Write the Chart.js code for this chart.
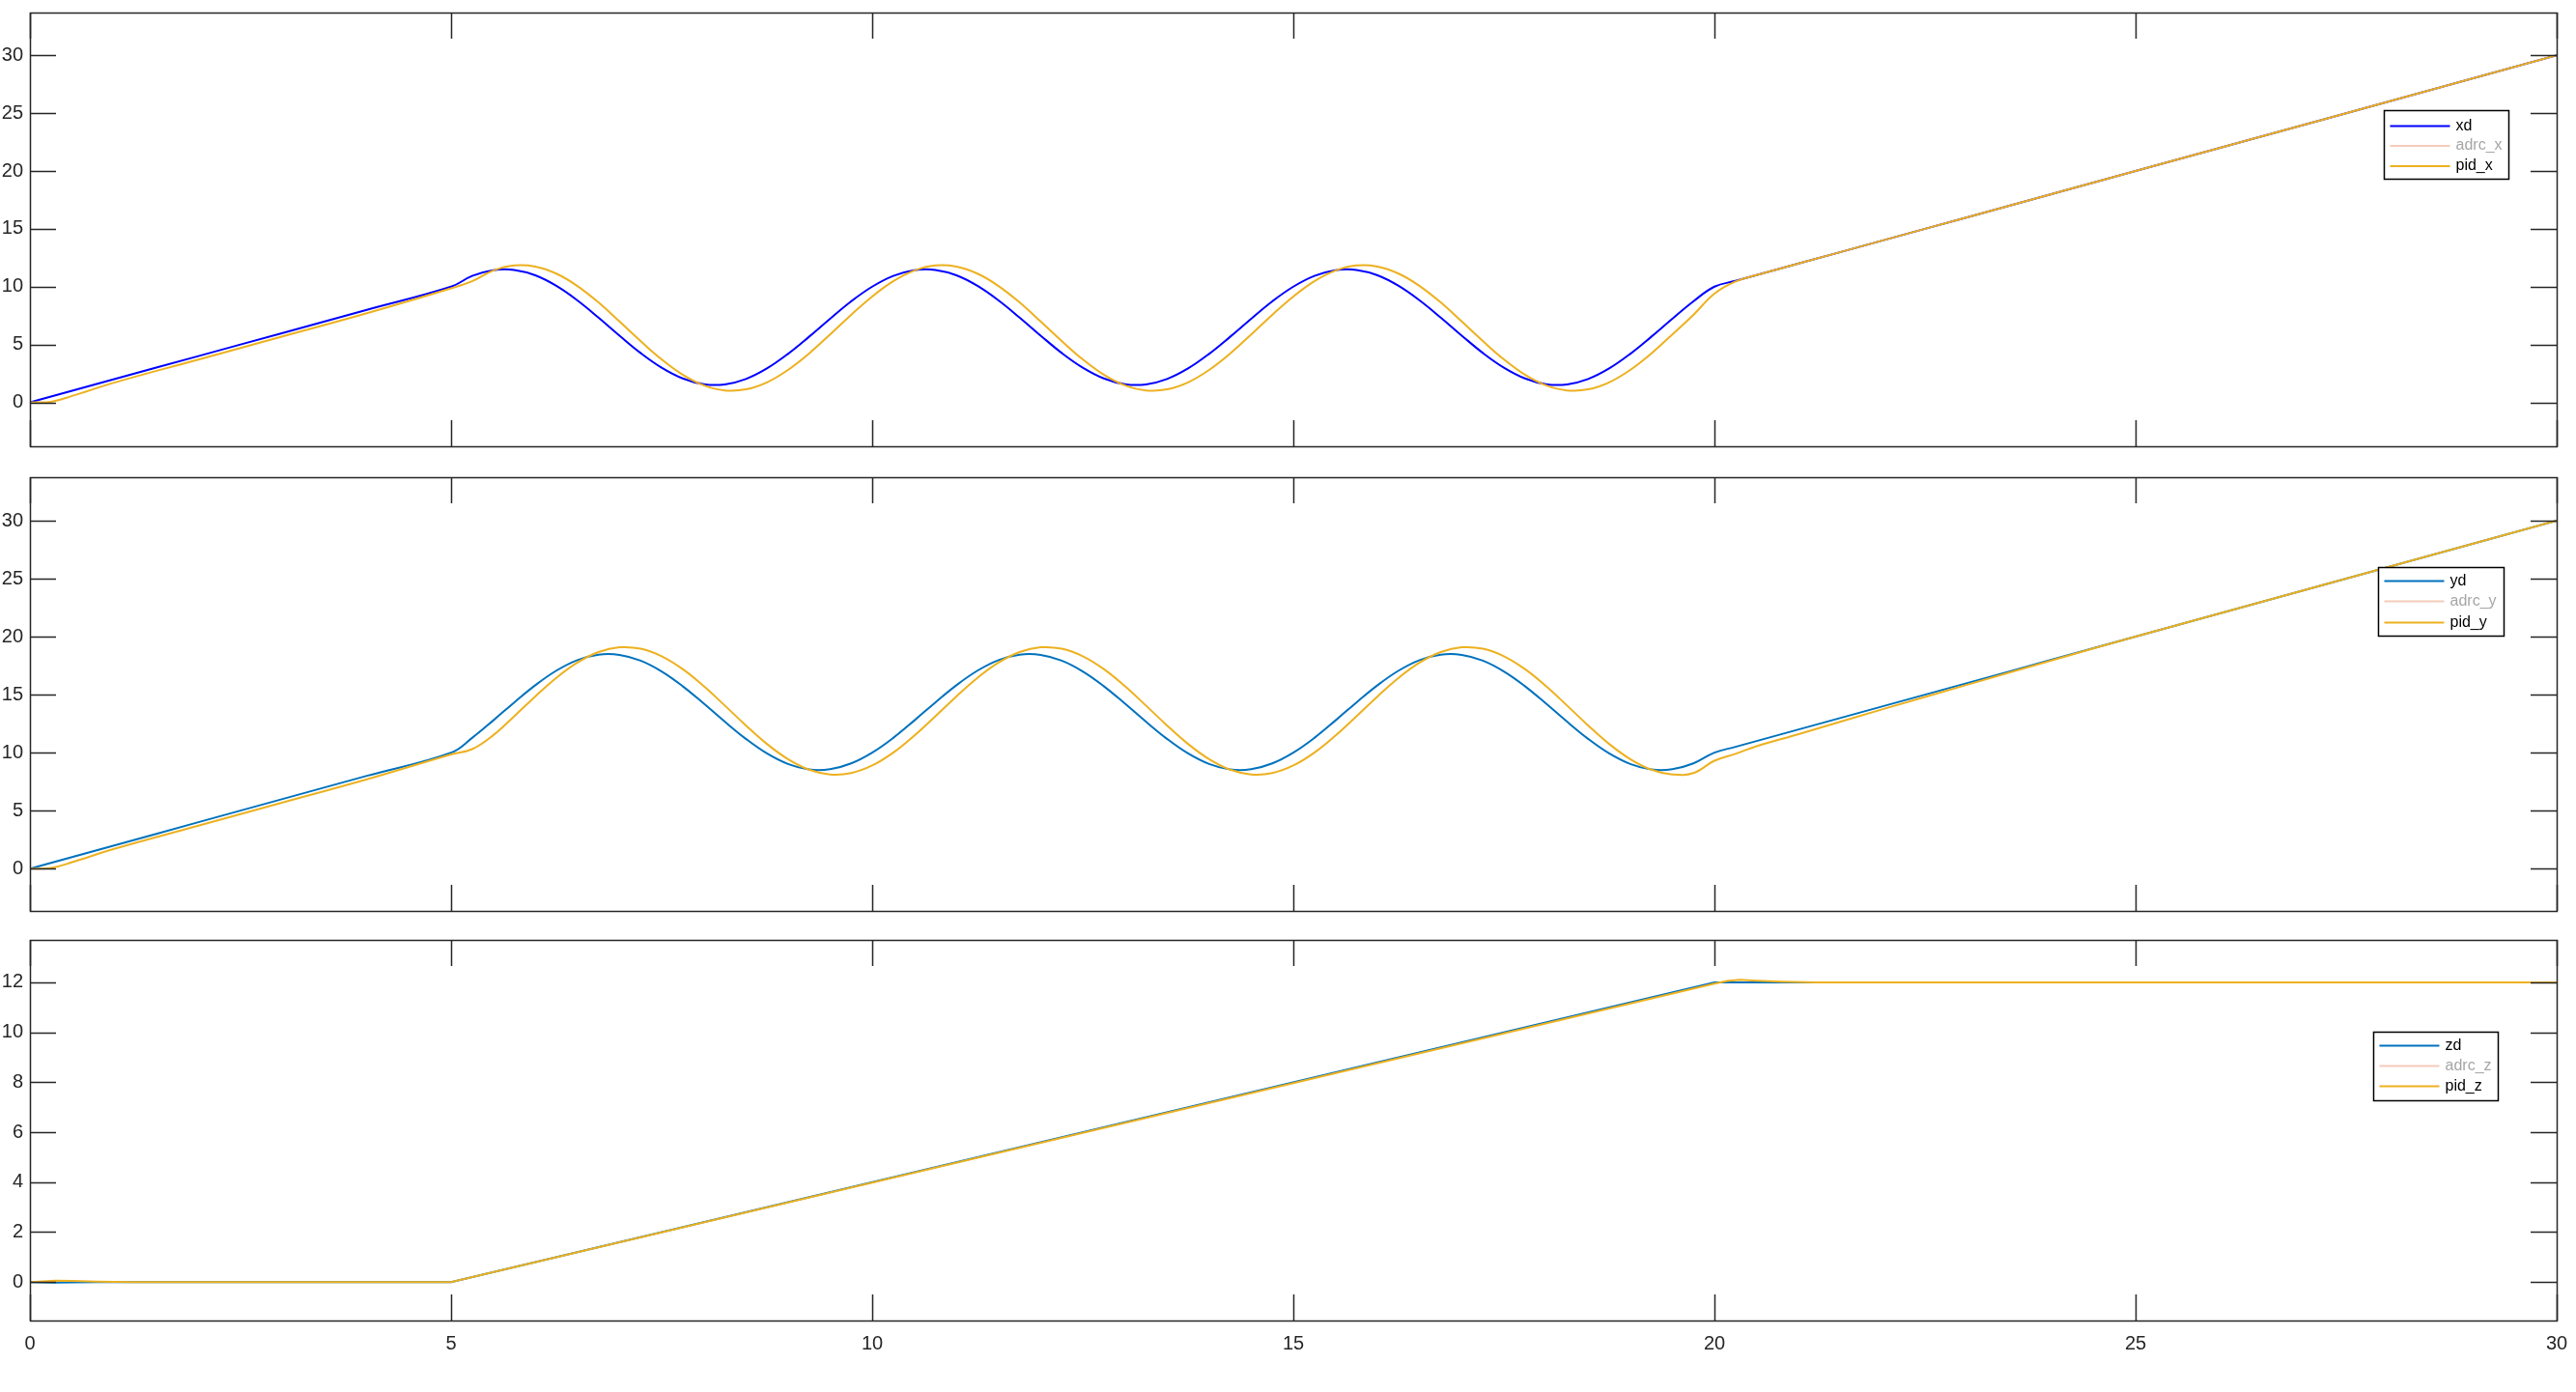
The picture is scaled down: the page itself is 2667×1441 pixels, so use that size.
<!DOCTYPE html>
<html><head><meta charset="utf-8">
<script src="https://cdn.jsdelivr.net/npm/chart.js@4.4.1/dist/chart.umd.min.js"></script>
<style>
html,body{margin:0;padding:0;background:#fff;}
#wrap{position:relative;width:2667px;height:1441px;background:#fff;}
canvas{position:absolute;left:0;}
</style>
</head><body>
<div id="wrap">
<canvas id="c1" width="2667" height="480" style="top:0px"></canvas>
<canvas id="c2" width="2667" height="480" style="top:480px"></canvas>
<canvas id="c3" width="2667" height="481" style="top:960px"></canvas>
</div>
<script>
// ---------- data ----------
const t = [0,0.25,0.5,1,2,3,4,
  5,5.25,5.5,5.75,6,6.25,6.5,6.75,7,7.25,7.5,7.75,8,8.25,8.5,8.75,9,9.25,9.5,9.75,
  10,10.25,10.5,10.75,11,11.25,11.5,11.75,12,12.25,12.5,12.75,13,13.25,13.5,13.75,14,14.25,14.5,14.75,
  15,15.25,15.5,15.75,16,16.25,16.5,16.75,17,17.25,17.5,17.75,18,18.25,18.5,18.75,19,19.25,19.5,19.75,
  20,20.25,20.5,21,22,23,24,25,30];

const xd = [0,0.5,1,2,4,6,8,
  10.00,10.93,11.43,11.45,10.98,10.07,8.81,7.33,5.77,4.27,3.00,2.07,1.57,1.55,2.02,2.93,4.19,5.67,7.23,8.73,
  10.00,10.93,11.43,11.45,10.98,10.07,8.81,7.33,5.77,4.27,3.00,2.07,1.57,1.55,2.02,2.93,4.19,5.67,7.23,8.73,
  10.00,10.93,11.43,11.45,10.98,10.07,8.81,7.33,5.77,4.27,3.00,2.07,1.57,1.55,2.02,2.93,4.19,5.67,7.23,8.73,
  10.00,10.5,11,12,14,16,18,20,30];

const pid_x = [0,0.05,0.55,1.7,3.7,5.7,7.7,
  9.85,10.47,11.39,11.83,11.74,11.13,10.06,8.64,6.99,5.30,3.71,2.39,1.47,1.03,1.12,1.73,2.80,4.22,5.87,7.56,
  9.15,10.47,11.39,11.83,11.74,11.13,10.06,8.64,6.99,5.30,3.71,2.39,1.47,1.03,1.12,1.73,2.80,4.22,5.87,7.56,
  9.15,10.47,11.39,11.83,11.74,11.13,10.06,8.64,6.99,5.30,3.71,2.39,1.47,1.03,1.12,1.73,2.80,4.22,5.87,7.56,
  9.40,10.45,11,12,14,16,18,20,30];

const yd = [0,0.5,1,2,4,6,8,
  10.00,11.27,12.77,14.33,15.81,17.07,17.98,18.45,18.43,17.93,17.00,15.73,14.23,12.67,11.19,9.93,9.02,8.55,8.57,9.07,
  10.00,11.27,12.77,14.33,15.81,17.07,17.98,18.45,18.43,17.93,17.00,15.73,14.23,12.67,11.19,9.93,9.02,8.55,8.57,9.07,
  10.00,11.27,12.77,14.33,15.81,17.07,17.98,18.45,18.43,17.93,17.00,15.73,14.23,12.67,11.19,9.93,9.02,8.55,8.57,9.07,
  10.00,10.5,11,12,14,16,18,20,30];

const pid_y = [0,0.05,0.55,1.7,3.7,5.7,7.7,
  9.85,10.30,11.50,13.14,14.85,16.45,17.76,18.67,19.08,18.96,18.31,17.20,15.73,14.06,12.35,10.75,9.44,8.53,8.12,8.24,
  8.89,10.00,11.47,13.14,14.85,16.45,17.76,18.67,19.08,18.96,18.31,17.20,15.73,14.06,12.35,10.75,9.44,8.53,8.12,8.24,
  8.89,10.00,11.47,13.14,14.85,16.45,17.76,18.67,19.08,18.96,18.31,17.20,15.73,14.06,12.35,10.75,9.44,8.53,8.12,8.24,
  9.30,9.90,10.55,11.6,13.75,15.85,17.95,20,30];

const t3 = [0,0.15,0.3,0.5,0.8,1.2,5,20,20.15,20.3,20.5,20.8,21.2,30];
const zd = [0,-0.01,-0.02,-0.01,0,0,0,12,12,12,12,12,12,12];
const pid_z = [0,0.03,0.06,0.05,0.02,0,0,11.95,12.06,12.10,12.07,12.03,12.0,12.0];

const xTicks = [0,5,10,15,20,25,30];
const yTicksXY = [0,5,10,15,20,25,30];
const yTicksZ = [0,2,4,6,8,10,12];
const xLabels = ['0','5','10','15','20','25','30'];

// ---------- styling ----------
const FONT = '"Liberation Sans", Arial, Helvetica, sans-serif';
const AXC = '#262626';
const C_XD = '#0000FF', C_REF = '#0072BD', C_PID = '#EDB120', C_ADRC = 'rgba(217,83,25,0.3)';
const TL = 27;

Chart.defaults.font.family = FONT;
Chart.defaults.color = AXC;

const pts = (tt, vv) => tt.map((v, i) => ({x: v, y: vv[i]}));

const matlabAxes = {
  id: 'matlabAxes',
  afterDraw(chart, args, o) {
    const {ctx, chartArea: a} = chart;
    const xs = chart.scales.x, ys = chart.scales.y;
    ctx.save();
    ctx.strokeStyle = AXC;
    ctx.lineWidth = 1.5;
    ctx.beginPath();
    for (const v of o.xTicks) {
      const px = Math.round(xs.getPixelForValue(v)) + 0.5;
      ctx.moveTo(px, a.bottom); ctx.lineTo(px, a.bottom - TL);
      ctx.moveTo(px, a.top); ctx.lineTo(px, a.top + TL);
    }
    for (const v of o.yTicks) {
      const py = Math.round(ys.getPixelForValue(v)) + 0.5;
      ctx.moveTo(a.left, py); ctx.lineTo(a.left + TL, py);
      ctx.moveTo(a.right, py); ctx.lineTo(a.right - TL, py);
    }
    ctx.stroke();
    ctx.strokeRect(Math.round(a.left) + 0.5, Math.round(a.top) + 0.5, Math.round(a.width), Math.round(a.height));
    // legend box inside axes
    const L = o.legend;
    const bx = Math.round(a.right - L.dx - L.w) + 0.5, by = Math.round(a.top + L.dy) + 0.5;
    ctx.fillStyle = '#fff';
    ctx.fillRect(bx, by, L.w, L.h);
    ctx.strokeStyle = '#000';
    ctx.lineWidth = 1.5;
    ctx.strokeRect(bx, by, L.w, L.h);
    ctx.font = '16px ' + FONT;
    ctx.textBaseline = 'middle';
    ctx.textAlign = 'left';
    L.items.forEach((it, i) => {
      const ry = by + L.rows[i];
      ctx.strokeStyle = it.color;
      ctx.lineWidth = 2;
      ctx.beginPath();
      ctx.moveTo(bx + 6, ry); ctx.lineTo(bx + 68, ry);
      ctx.stroke();
      ctx.fillStyle = it.text;
      ctx.fillText(it.label, bx + 74, ry);
    });
    ctx.restore();
  }
};

function makeChart(id, sets, yMin, yMax, yStep, yTicks, showX, pad, legend, tension) {
  return new Chart(document.getElementById(id), {
    type: 'line',
    data: {datasets: sets},
    options: {
      responsive: false,
      animation: false,
      devicePixelRatio: 1,
      layout: {padding: pad},
      elements: {point: {radius: 0}, line: {borderWidth: 2, tension: tension}},
      plugins: {legend: {display: false}, tooltip: {enabled: false},
        matlabAxes: {xTicks: xTicks, yTicks: yTicks, legend: legend}},
      scales: {
        x: {type: 'linear', min: 0, max: 30,
          grid: {display: false, drawTicks: false}, border: {display: false},
          ticks: {display: showX, stepSize: 5, autoSkip: false, maxRotation: 0, padding: 12,
            font: {size: 20}, color: AXC,
            callback: (v) => xLabels[xTicks.indexOf(v)] ?? ''},
          afterFit: (s) => { s.height = showX ? 40 : 0; s.paddingLeft = 0; s.paddingRight = 0; }},
        y: {type: 'linear', min: yMin, max: yMax,
          grid: {display: false, drawTicks: false}, border: {display: false},
          ticks: {stepSize: yStep, includeBounds: false, padding: 7, font: {size: 20}, color: AXC},
          afterFit: (s) => { s.width = 31; s.paddingTop = 0; s.paddingBottom = 0; }}
      }
    },
    plugins: [matlabAxes]
  });
}

makeChart('c1', [
  {label: 'xd', data: pts(t, xd), borderColor: C_XD, order: 3},
  {label: 'adrc_x', data: [], borderColor: C_ADRC, order: 2},
  {label: 'pid_x', data: pts(t, pid_x), borderColor: C_PID, order: 1}
], -3.8, 33.7, 5, yTicksXY, false, {top: 13, bottom: 18, left: 0, right: 20},
{dx: 50, dy: 101, w: 129, h: 71, rows: [16, 36.5, 57.5], items: [
  {label: 'xd', color: C_XD, text: '#000'},
  {label: 'adrc_x', color: C_ADRC, text: '#A6A6A6'},
  {label: 'pid_x', color: C_PID, text: '#000'}]}, 0.4);

makeChart('c2', [
  {label: 'yd', data: pts(t, yd), borderColor: C_REF, order: 3},
  {label: 'adrc_y', data: [], borderColor: C_ADRC, order: 2},
  {label: 'pid_y', data: pts(t, pid_y), borderColor: C_PID, order: 1}
], -3.65, 33.75, 5, yTicksXY, false, {top: 14, bottom: 17, left: 0, right: 20},
{dx: 55, dy: 93, w: 130, h: 71, rows: [14, 35, 57], items: [
  {label: 'yd', color: C_REF, text: '#000'},
  {label: 'adrc_y', color: C_ADRC, text: '#A6A6A6'},
  {label: 'pid_y', color: C_PID, text: '#000'}]}, 0.4);

makeChart('c3', [
  {label: 'zd', data: pts(t3, zd), borderColor: C_REF, order: 3},
  {label: 'adrc_z', data: [], borderColor: C_ADRC, order: 2},
  {label: 'pid_z', data: pts(t3, pid_z), borderColor: C_PID, order: 1}
], -1.54, 13.7, 2, yTicksZ, true, {top: 13, bottom: 34, left: 0, right: 20},
{dx: 61, dy: 95, w: 129, h: 71, rows: [14, 35, 56], items: [
  {label: 'zd', color: C_REF, text: '#000'},
  {label: 'adrc_z', color: C_ADRC, text: '#A6A6A6'},
  {label: 'pid_z', color: C_PID, text: '#000'}]}, 0);
</script>
</body></html>
